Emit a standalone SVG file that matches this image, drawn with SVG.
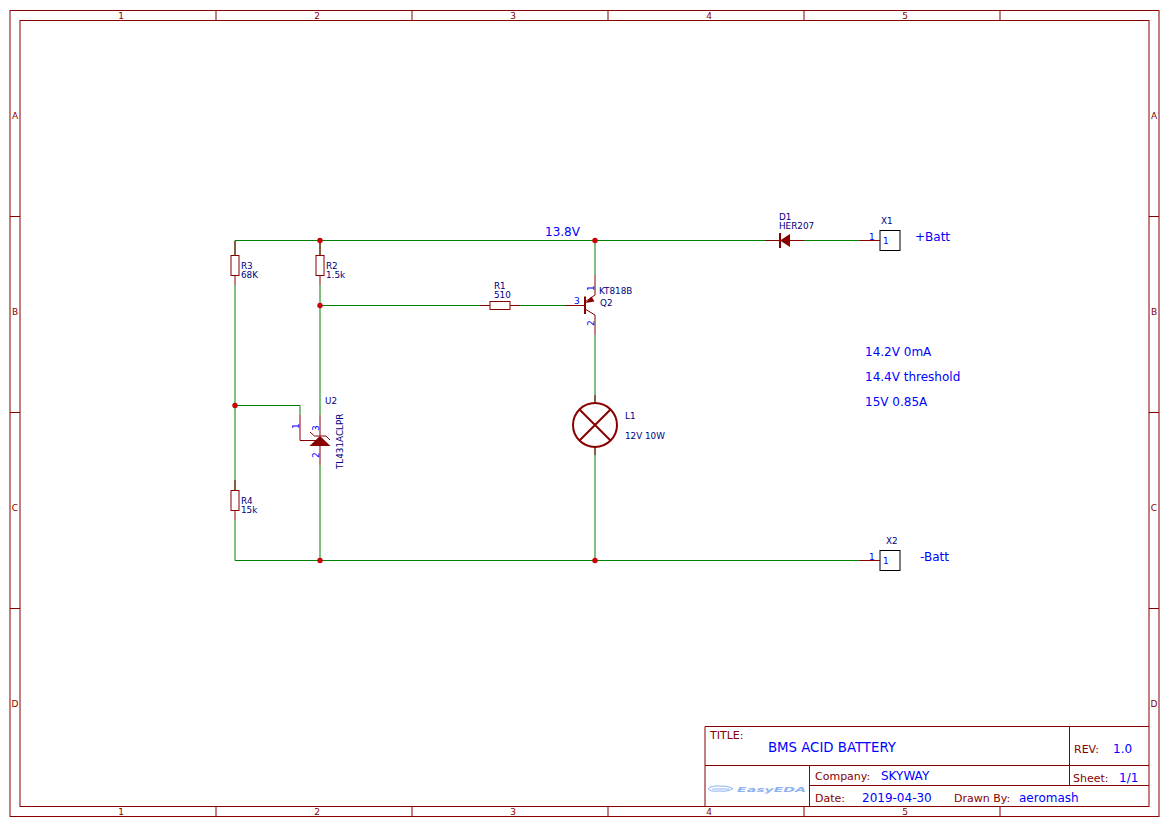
<svg xmlns="http://www.w3.org/2000/svg" width="1169" height="827" viewBox="0 0 1169 827">
<style>
text{font-family:"DejaVu Sans","Liberation Sans",sans-serif}
.f{fill:none;stroke:#880000;stroke-width:1}
.w{fill:none;stroke:#008000;stroke-width:1}
.p{fill:none;stroke:#880000;stroke-width:1}
.j{fill:#cc0000}
.s{fill:#880000;stroke:none}
.fr{fill:#880000;font-size:9px;text-anchor:middle}
.tb{fill:#880000;font-size:11px}
.v{fill:#0000ff;font-size:12px}
.n{fill:#000080;font-size:8.800px}
.pn{fill:#0000ff;font-size:9px}
</style>
<rect width="1169" height="827" fill="#fff"/>
<g id="frame">
<rect class="f" x="10" y="10.5" width="1149" height="806"/>
<rect class="f" x="20" y="20.5" width="1129" height="786"/>
<path class="f" d="M216 10V20M412 10V20M608 10V20M804 10V20M1000 10V20M216 807V817M412 807V817M608 807V817M804 807V817M1000 807V817M10 216.500H20M10 412.500H20M10 608.500H20M1149 216.500H1159M1149 412.500H1159M1149 608.500H1159"/>
<text class="fr" x="121" y="19">1</text><text class="fr" x="317" y="19">2</text><text class="fr" x="513" y="19">3</text><text class="fr" x="709" y="19">4</text><text class="fr" x="905" y="19">5</text>
<text class="fr" x="121" y="815">1</text><text class="fr" x="317" y="815">2</text><text class="fr" x="513" y="815">3</text><text class="fr" x="709" y="815">4</text><text class="fr" x="905" y="815">5</text>
<text class="fr" x="15" y="119">A</text><text class="fr" x="15" y="315">B</text><text class="fr" x="15" y="511">C</text><text class="fr" x="15" y="707">D</text>
<text class="fr" x="1154" y="119">A</text><text class="fr" x="1154" y="315">B</text><text class="fr" x="1154" y="511">C</text><text class="fr" x="1154" y="707">D</text>
</g>
<g id="title-block">
<path class="f" d="M705 806.500V726.500H1149M705 765.500H1149M809.500 785.500H1149M809.500 765.500V806.500M1069.500 726.500V785.500"/>
<text class="tb" x="710" y="739">TITLE:</text>
<text x="768" y="752" fill="#0000ff" font-size="13.300px">BMS ACID BATTERY</text>
<text class="tb" x="1074" y="753">REV:</text>
<text class="v" x="1113" y="753">1.0</text>
<text class="tb" x="815" y="780">Company:</text>
<text class="v" x="881" y="780">SKYWAY</text>
<text class="tb" x="1073" y="782">Sheet:</text>
<text class="v" x="1119" y="782">1/1</text>
<text class="tb" x="815" y="802">Date:</text>
<text class="v" x="862" y="802">2019-04-30</text>
<text class="tb" x="954" y="802">Drawn By:</text>
<text class="v" x="1019" y="802">aeromash</text>
<g id="logo">
<path d="M708 789Q711 785.500 719 786Q728 785.500 733 788.500Q728 792 719 791Q711 792 708 789Z" fill="none" stroke="#8fb2f2" stroke-width="1"/>
<path d="M712 789H729" stroke="#8fb2f2" stroke-width="1" fill="none"/>
<text x="737" y="791.500" fill="#8fb2f2" font-size="7px" font-style="italic" font-weight="bold" textLength="69" lengthAdjust="spacingAndGlyphs">EasyEDA</text>
</g>
</g>
<g id="wires">
<path class="w" d="M235 240.500H780M790 240.500H860M235 240.500V255M320 240.500V255M595 240.500V275"/>
<path class="w" d="M235 285V490M320 285V415M320 305.500H490M510 305.500H565M235 405.500H300V415M235 520V560.500M320 465V560.500M595 335V403M595 447V560.500M235 560.500H860"/>
</g>
<g id="junctions">
<circle class="j" cx="320" cy="240.500" r="2.700"/><circle class="j" cx="595" cy="240.500" r="2.700"/><circle class="j" cx="320" cy="305.500" r="2.700"/><circle class="j" cx="235" cy="405.500" r="2.700"/><circle class="j" cx="320" cy="560.500" r="2.700"/><circle class="j" cx="595" cy="560.500" r="2.700"/>
</g>
<g id="R3"><path class="p" d="M235 241V255M235 275V285"/><rect class="p" x="231" y="255.500" width="8" height="20" fill="#fff"/><text class="n" x="241" y="269">R3</text><text class="n" x="241" y="278">68K</text></g>
<g id="R2"><path class="p" d="M320 243V255M320 275V285"/><rect class="p" x="316" y="255.500" width="8" height="20" fill="#fff"/><text class="n" x="326" y="269">R2</text><text class="n" x="326" y="278">1.5k</text></g>
<g id="R4"><path class="p" d="M235 480V490M235 510V520"/><rect class="p" x="231" y="490.500" width="8" height="20" fill="#fff"/><text class="n" x="241" y="504">R4</text><text class="n" x="241" y="513">15k</text></g>
<g id="R1"><path class="p" d="M480 305.500H490M510 305.500H520"/><rect class="p" x="490" y="301.500" width="20" height="8" fill="#fff"/><text class="n" x="494" y="289">R1</text><text class="n" x="494" y="298">510</text></g>
<g id="Q2">
<path class="p" d="M565 305.500H585M595 275V295L585 302M585 309L595 315V335"/>
<path d="M585 296.500V314" fill="none" stroke="#880000" stroke-width="2"/>
<path class="s" d="M585.500 303L591.500 296.500L594.500 301.500Z"/>
<text class="pn" transform="rotate(-90 594 291)" x="594" y="291">1</text>
<text class="pn" transform="rotate(-90 594 326)" x="594" y="326">2</text>
<text class="pn" x="574" y="304">3</text>
<text class="n" x="599" y="294">KT818B</text><text class="n" x="600" y="306">Q2</text>
</g>
<g id="U2">
<path class="p" d="M320 415V436M320 446V465M300 415V440.500H320M310 432L314.500 436H326L330 440"/>
<path class="s" d="M320 436L309.500 446H330.500Z"/>
<text class="pn" transform="rotate(-90 299 429)" x="299" y="429">1</text>
<text class="pn" transform="rotate(-90 319 431)" x="319" y="431">3</text>
<text class="pn" transform="rotate(-90 319 458)" x="319" y="458">2</text>
<text class="n" x="325" y="404">U2</text>
<text class="n" transform="rotate(-90 343 469)" x="343" y="469">TL431ACLPR</text>
</g>
<g id="L1">
<path class="p" d="M595 395V403M595 447V455"/>
<circle cx="595" cy="425" r="22" fill="none" stroke="#880000" stroke-width="2"/>
<path d="M579.500 409.500L610.500 440.500M610.500 409.500L579.500 440.500" fill="none" stroke="#880000" stroke-width="2"/>
<text class="n" x="625" y="419">L1</text><text class="n" x="625" y="439">12V 10W</text>
</g>
<g id="D1">
<path class="p" d="M765 240.500H780M790 240.500H804"/>
<path d="M780 233V248" fill="none" stroke="#880000" stroke-width="2"/>
<path class="s" d="M780 240.500L790 234V247Z"/>
<text class="n" x="779" y="220">D1</text><text class="n" x="779" y="229">HER207</text>
</g>
<g id="X1">
<path class="p" d="M860 240.500H880"/>
<rect x="880" y="230.500" width="20" height="20" fill="#fff" stroke="#000" stroke-width="1"/>
<text class="pn" x="869" y="240">1</text><text class="pn" x="883" y="244">1</text>
<text class="n" x="881" y="223.500">X1</text>
</g>
<g id="X2">
<path class="p" d="M860 560.500H880"/>
<rect x="880" y="550.500" width="20" height="20" fill="#fff" stroke="#000" stroke-width="1"/>
<text class="pn" x="869" y="560">1</text><text class="pn" x="883" y="564">1</text>
<text class="n" x="886" y="543.500">X2</text>
</g>
<g id="labels">
<text class="v" x="545" y="235.500">13.8V</text>
<text class="v" x="915" y="240.500">+Batt</text>
<text class="v" x="920" y="560.500">-Batt</text>
<text class="v" x="865" y="355.500">14.2V 0mA</text>
<text class="v" x="865" y="380.500">14.4V threshold</text>
<text class="v" x="865" y="405.500">15V 0.85A</text>
</g>
</svg>
